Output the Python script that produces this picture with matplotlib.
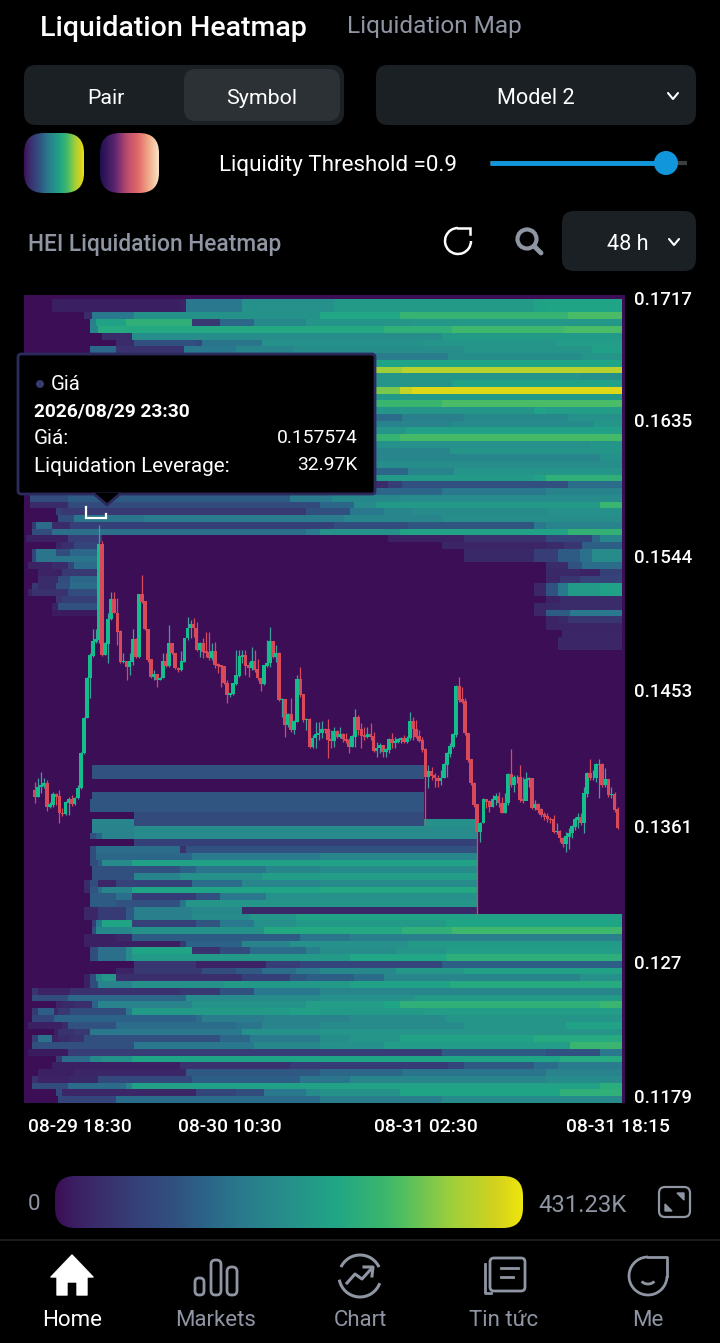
import matplotlib
matplotlib.use("Agg")
import matplotlib.pyplot as plt
import numpy as np
from matplotlib.colors import LinearSegmentedColormap
from matplotlib.patches import Arc, Circle, FancyBboxPatch, Polygon
from matplotlib.transforms import ScaledTranslation

plt.rcParams["font.family"] = ["Roboto", "DejaVu Sans"]

# candles, 15 min apart, prices in 1e-5
FIRST_OPEN = 13847
CLOSES = [
    13809, 13872, 13881, 13899, 13741, 13752, 13820, 13809, 13696, 13689, 13768, 13786, 13759, 13798, 13865, 14103,
    14340, 14611, 14763, 14860, 14871, 15515, 14770, 14844, 15011, 15147, 15052, 14928, 14724, 14724, 14690, 14724,
    14871, 14754, 15176, 15131, 14944, 14736, 14623, 14634, 14600, 14611, 14724, 14695, 14849, 14781, 14679, 14668,
    14724, 14882, 14950, 14973, 14950, 14803, 14849, 14792, 14785, 14747, 14792, 14702, 14695, 14690, 14577, 14498,
    14505, 14573, 14629, 14758, 14763, 14695, 14679, 14724, 14668, 14611, 14573, 14695, 14713, 14860, 14758, 14781,
    14464, 14464, 14295, 14363, 14261, 14318, 14600, 14498, 14329, 14329, 14148, 14205, 14227, 14238, 14266, 14261,
    14193, 14189, 14250, 14216, 14227, 14198, 14189, 14148, 14216, 14347, 14261, 14220, 14216, 14227, 14216, 14121,
    14137, 14153, 14114, 14125, 14193, 14171, 14182, 14193, 14205, 14182, 14205, 14318, 14266, 14216, 14189, 14125,
    13945, 13979, 13949, 13933, 13917, 13933, 14024, 14098, 14148, 14227, 14555, 14464, 14453, 14238, 14058, 13899,
    13752, 13572, 13628, 13786, 13775, 13737, 13786, 13809, 13764, 13701, 13764, 13956, 13888, 13940, 13940, 13786,
    13782, 13922, 13933, 13730, 13752, 13719, 13685, 13673, 13655, 13651, 13572, 13572, 13527, 13488, 13538, 13560,
    13606, 13651, 13669, 13633, 13827, 13967, 13933, 13933, 14024, 14024, 13888, 13922, 13820, 13820, 13719, 13594,
]
HIGHS = [
    13911, 13933, 13979, 13933, 13922, 13775, 13843, 13832, 13854, 13730, 13782, 13809, 13820, 13809, 13888, 14114,
    14351, 14623, 14781, 14944, 14944, 15651, 15542, 14860, 15052, 15199, 15199, 15154, 14939, 14781, 14724, 14781,
    14944, 14882, 15183, 15312, 15131, 14944, 14736, 14668, 14634, 14623, 14781, 14781, 14973, 14837, 14781, 14690,
    14799, 14882, 15025, 15007, 15018, 14995, 14860, 14882, 14928, 14928, 14849, 14860, 14713, 14702, 14690, 14600,
    14514, 14577, 14803, 14803, 14803, 14803, 14724, 14821, 14803, 14740, 14611, 14702, 14871, 14957, 14860, 14837,
    14792, 14476, 14471, 14374, 14476, 14329, 14634, 14686, 14498, 14340, 14340, 14227, 14318, 14318, 14324, 14272,
    14333, 14261, 14284, 14261, 14284, 14238, 14238, 14205, 14227, 14401, 14363, 14306, 14284, 14279, 14306, 14250,
    14182, 14171, 14148, 14137, 14205, 14238, 14216, 14205, 14216, 14227, 14220, 14385, 14351, 14329, 14261, 14216,
    14137, 14024, 14012, 13967, 13956, 13990, 14035, 14114, 14171, 14238, 14566, 14618, 14555, 14476, 14227, 14058,
    13911, 13730, 13639, 13798, 13791, 13786, 13820, 13832, 13843, 13809, 13832, 13967, 14130, 13956, 13956, 14024,
    13945, 13979, 13945, 13933, 13786, 13764, 13730, 13707, 13696, 13673, 13685, 13628, 13583, 13538, 13572, 13594,
    13617, 13673, 13696, 13696, 13877, 13979, 14062, 13990, 14035, 14062, 14035, 14001, 13922, 13877, 13843, 13741,
]
LOWS = [
    13768, 13809, 13832, 13865, 13714, 13730, 13741, 13752, 13633, 13678, 13685, 13685, 13746, 13752, 13791, 13859,
    14098, 14340, 14476, 14758, 14849, 14849, 14763, 14770, 14717, 15007, 15052, 14837, 14713, 14713, 14600, 14634,
    14702, 14747, 14747, 15120, 14939, 14724, 14611, 14600, 14555, 14600, 14611, 14690, 14690, 14776, 14672, 14656,
    14663, 14724, 14871, 14882, 14894, 14799, 14758, 14747, 14758, 14736, 14736, 14679, 14645, 14555, 14573, 14446,
    14487, 14498, 14566, 14623, 14713, 14634, 14623, 14668, 14656, 14600, 14528, 14566, 14690, 14690, 14747, 14724,
    14460, 14351, 14216, 14284, 14250, 14234, 14318, 14487, 14318, 14261, 14137, 14137, 14137, 14193, 14205, 14238,
    14069, 14137, 14148, 14205, 14205, 14182, 14171, 14107, 14148, 14148, 14227, 14137, 14193, 14205, 14193, 14114,
    14080, 14107, 14080, 14080, 14103, 14137, 14137, 14171, 14171, 14171, 14171, 14193, 14193, 14205, 14182, 14114,
    13617, 13865, 13922, 13877, 13877, 13888, 13933, 13945, 14080, 14137, 14216, 14453, 14442, 14227, 14046, 13888,
    13741, 13007, 13504, 13628, 13730, 13707, 13737, 13752, 13741, 13696, 13701, 13752, 13877, 13843, 13899, 13775,
    13764, 13798, 13877, 13723, 13719, 13696, 13673, 13651, 13639, 13628, 13560, 13556, 13504, 13470, 13436, 13452,
    13527, 13583, 13594, 13617, 13565, 13809, 13922, 13922, 13911, 13798, 13877, 13877, 13809, 13798, 13707, 13588,
]

# liquidation leverage in K, one row per price band from the top; (first column, value) runs
HEAT_ROWS = [
    [(14, 17), (78, 25), (81, 170), (109, 215), (155, 235), (255, 250), (261, 255)],
    [(14, 17), (78, 25), (81, 170), (109, 215), (155, 235), (255, 250), (261, 255)],
    [(30, 40), (34, 170), (55, 220), (148, 260), (188, 295), (272, 315)],
    [(33, 185), (36, 250), (51, 285), (84, 60), (98, 140), (115, 200), (141, 225), (194, 230)],
    [(33, 190), (37, 270), (51, 265), (180, 285), (214, 305), (270, 315)],
    [(39, 40), (54, 210), (209, 235)],
    [(46, 40), (55, 105), (86, 90), (89, 165), (119, 215), (200, 225), (266, 240)],
    [(33, 140), (46, 50), (80, 170), (106, 195), (135, 210), (220, 225), (284, 245)],
    [(30, 100), (46, 140), (80, 180), (212, 210), (279, 225)],
    [(30, 100), (50, 180), (100, 230), (176, 255)],
    [(30, 100), (50, 220), (100, 300), (170, 365), (189, 385)],
    [(30, 100), (60, 200), (176, 225), (278, 215)],
    [(30, 100), (60, 200), (176, 225), (214, 250)],
    [(30, 100), (60, 250), (176, 345), (188, 395), (194, 415)],
    [(30, 100), (60, 200), (176, 235)],
    [(30, 120), (60, 230), (176, 300), (209, 315)],
    [(30, 100), (60, 200), (176, 225), (255, 250), (261, 240)],
    [(30, 90), (60, 140), (176, 150), (189, 185), (220, 200), (272, 215)],
    [(30, 90), (60, 160), (176, 190), (214, 205), (285, 225)],
    [(30, 100), (60, 190), (176, 225), (191, 245)],
    [(30, 120), (60, 230), (176, 295), (188, 310)],
    [(30, 90), (60, 170), (176, 215), (283, 225)],
    [(30, 90), (60, 170), (176, 195), (213, 225)],
    [(30, 90), (60, 170), (176, 195), (288, 215)],
    [(30, 90), (60, 170), (176, 210)],
    [(30, 80), (60, 130), (176, 140), (192, 190), (215, 225)],
    [(30, 90), (60, 170), (176, 235), (255, 250), (261, 285)],
    [(30, 40), (182, 70), (189, 105), (272, 150)],
    [(10, 60), (60, 120), (176, 140), (209, 170), (261, 190)],
    [(3, 100), (22, 125), (133, 175), (154, 200), (188, 205)],
    [(3, 40), (22, 95), (148, 140), (165, 205), (176, 235), (288, 300)],
    [(16, 75), (19, 60), (141, 105), (163, 170), (180, 195), (194, 205), (262, 215)],
    [(17, 100), (25, 165), (60, 175), (160, 195), (209, 210)],
    [(4, 60), (6, 150), (14, 40), (23, 75), (155, 100), (192, 115), (255, 170), (261, 190)],
    [(4, 100), (14, 155), (141, 175), (148, 215), (188, 250), (272, 290)],
    [(1, 20), (22, 70), (39, 0), (182, 20), (220, 50), (261, 85), (284, 140), (288, 195)],
    [(16, 30), (19, 45), (25, 85), (38, 0), (209, 28), (261, 40), (270, 55), (279, 130)],
    [(4, 80), (6, 165), (16, 100), (23, 140), (38, 0), (220, 35), (255, 70), (267, 125), (278, 160), (284, 205)],
    [(4, 80), (6, 165), (38, 0), (220, 35), (255, 70), (267, 125), (278, 160), (284, 205)],
    [(2, 25), (14, 40), (22, 85), (25, 150), (38, 0), (261, 40), (272, 110), (279, 150)],
    [(7, 25), (16, 20), (19, 60), (38, 0), (261, 35), (278, 25), (288, 75)],
    [(7, 40), (17, 100), (23, 140), (38, 0), (261, 30), (268, 55), (278, 80)],
    [(4, 60), (7, 40), (16, 105), (23, 150), (38, 0), (255, 30), (261, 110), (267, 170), (272, 235), (288, 250)],
    [(2, 25), (4, 50), (22, 100), (38, 0), (255, 30), (261, 110), (267, 170), (272, 235), (288, 250)],
    [(16, 55), (19, 70), (37, 0), (261, 25), (268, 40)],
    [(14, 25), (17, 110), (37, 0), (255, 30), (261, 35), (268, 40)],
    [(14, 15), (37, 0), (255, 30), (261, 125), (273, 170)],
    [(261, 25), (267, 35), (272, 55)],
    [(261, 28)],
    [(269, 30)],
    [(267, 30)],
    [(267, 30)],
    *[[] for _ in range(17)],
    [(34, 110), (200, 0)],
    [(34, 110), (200, 0)],
    [],
    [],
    [(34, 115), (200, 0)],
    [(33, 115), (200, 0)],
    [(33, 115), (200, 0)],
    [(55, 95), (200, 0)],
    [(34, 195), (55, 95), (200, 215), (227, 0)],
    [(34, 190), (55, 205), (227, 0)],
    [(33, 105), (36, 135), (39, 190), (55, 205), (227, 0)],
    [(55, 75), (227, 0)],
    [(33, 100), (36, 150), (78, 50), (81, 110), (227, 0)],
    [(33, 100), (36, 140), (84, 175), (148, 195), (227, 0)],
    [(33, 100), (37, 130), (39, 205), (54, 250), (227, 0)],
    [(34, 105), (78, 135), (86, 165), (121, 195), (148, 205), (227, 0)],
    [(34, 105), (55, 190), (78, 215), (119, 240), (227, 0)],
    [(30, 40), (33, 100), (37, 30), (46, 80), (84, 150), (109, 195), (148, 205), (227, 0)],
    [(30, 35), (33, 115), (37, 155), (39, 195), (54, 255), (148, 265), (227, 0)],
    [(33, 125), (46, 155), (54, 65), (86, 105), (98, 170), (121, 215), (227, 0)],
    [(33, 125), (46, 110), (78, 165), (81, 225), (227, 0)],
    [(30, 30), (37, 65), (51, 120), (55, 185), (84, 200), (109, 35), (227, 0)],
    [(30, 30), (37, 65), (51, 120), (55, 185), (84, 205), (113, 225), (136, 250)],
    [(34, 70), (36, 170), (39, 255), (54, 75), (86, 115), (98, 170), (115, 215), (136, 235), (211, 255)],
    [(34, 100), (36, 200), (54, 220), (120, 265), (189, 285), (214, 305)],
    [(30, 20), (46, 35), (54, 125), (138, 165), (163, 185)],
    [(30, 20), (78, 65), (81, 135), (109, 190), (133, 215), (192, 235)],
    [(33, 100), (37, 155), (51, 205), (54, 255), (84, 50), (98, 100), (113, 150), (141, 185), (148, 210), (186, 225), (211, 240)],
    [(33, 100), (37, 155), (51, 205), (54, 235), (163, 260), (211, 280)],
    [(55, 55), (86, 25), (121, 70), (138, 85), (209, 130)],
    [(46, 25), (55, 60), (89, 100), (106, 120), (119, 150), (136, 175), (148, 200), (186, 230), (220, 250)],
    [(30, 20), (33, 100), (36, 200), (39, 225), (46, 45), (109, 75), (133, 115), (141, 130), (165, 150), (180, 195), (278, 215)],
    [(30, 20), (33, 100), (37, 190), (54, 215), (100, 235), (163, 250), (213, 270)],
    [(4, 55), (7, 25), (23, 50), (78, 60), (98, 110), (115, 170), (148, 195)],
    [(4, 100), (22, 140), (81, 205), (148, 215), (195, 235)],
    [(16, 25), (19, 35), (25, 45), (34, 135), (37, 190), (84, 220), (141, 240), (180, 255), (188, 285), (288, 300)],
    [(4, 60), (7, 130), (15, 40), (17, 60), (23, 100), (51, 170), (54, 235), (133, 245), (148, 235), (200, 240)],
    [(4, 85), (15, 135), (86, 150), (89, 180), (120, 190), (163, 205), (211, 225)],
    [(2, 20), (19, 40), (22, 110), (46, 150), (106, 165), (119, 190), (148, 205), (220, 225), (271, 250)],
    [(15, 20), (17, 50), (25, 60), (33, 170), (109, 215), (148, 225)],
    [(4, 70), (7, 160), (14, 25), (17, 40), (23, 50), (30, 105), (98, 140), (113, 175), (148, 210), (163, 225), (188, 250), (255, 270)],
    [(4, 105), (55, 170), (115, 200), (148, 215), (180, 240), (273, 300)],
    [(2, 15), (22, 70), (209, 125), (261, 110), (288, 170)],
    [(16, 60), (19, 150), (33, 200), (39, 220), (54, 255), (268, 270)],
    [(14, 20), (78, 50), (133, 65), (212, 85), (220, 120), (255, 150), (267, 175)],
    [(7, 20), (25, 30), (81, 120), (148, 140), (189, 165), (261, 190)],
    [(4, 50), (7, 25), (23, 35), (37, 90), (84, 130), (138, 165), (163, 195), (261, 205)],
    [(4, 100), (22, 150), (51, 190), (54, 250), (288, 275)],
    [(16, 90), (19, 30), (86, 85), (106, 100), (120, 170), (141, 205), (148, 220), (188, 255), (268, 285)],
    [(17, 85), (46, 150), (148, 180), (209, 205)],
]

PRICE_TICKS = [0.1717, 0.1635, 0.1544, 0.1453, 0.1361, 0.127, 0.1179]
TIME_TICKS = [0, 16, 32, 47.75]
TIME_LABELS = ["08-29 18:30", "08-30 10:30", "08-31 02:30", "08-31 18:15"]
MAX_LEVERAGE = 431.23

BG = "#000000"
PANEL = "#1b2024"
PANEL_ON = "#2c3135"
GREY = "#8f95a3"
BLUE = "#1296db"
UP = "#14bd8c"
DOWN = "#d8495a"

heat_cmap = LinearSegmentedColormap.from_list("heat", [
    (0.00, "#3c0e56"), (0.04, "#3b1f63"), (0.10, "#3a2f6c"), (0.18, "#35427a"), (0.25, "#31507f"),
    (0.32, "#2c6488"), (0.40, "#2a7a8d"), (0.50, "#26908a"), (0.60, "#20a686"), (0.70, "#3ab56f"),
    (0.75, "#55bf5f"), (0.85, "#a0cf3a"), (0.95, "#d6d31c"), (1.00, "#eee60d"),
])
swatch_cmap = LinearSegmentedColormap.from_list("swatch", [
    (0.0, "#1e0f50"), (0.25, "#5a2570"), (0.45, "#b84a6e"), (0.65, "#e06a6a"), (0.82, "#f0a888"), (1.0, "#f8e4c4"),
])

fig = plt.figure(figsize=(7.2, 13.43), dpi=100, facecolor=BG)

# page furniture, drawn in pixel coordinates
ui = fig.add_axes([0, 0, 1, 1], zorder=0)
ui.set_xlim(0, 720)
ui.set_ylim(1343, 0)
ui.axis("off")


def box(ax, x0, y0, x1, y1, rad, fc, ec="none", lw=0.0, z=1):
    patch = FancyBboxPatch((x0 + rad, y0 + rad), x1 - x0 - 2 * rad, y1 - y0 - 2 * rad,
                           boxstyle=f"round,pad={rad},rounding_size={rad}", fc=fc, ec=ec, lw=lw, zorder=z)
    ax.add_patch(patch)
    return patch


def gradient(ax, x0, y0, x1, y1, rad, cmap):
    clip = box(ax, x0, y0, x1, y1, rad, "none")
    im = ax.imshow(np.linspace(0, 1, 256)[None, :], cmap=cmap, extent=(x0, x1, y1, y0), aspect="auto", zorder=2)
    im.set_clip_path(clip)
    ax.set_xlim(0, 720)
    ax.set_ylim(1343, 0)


def chevron(ax, x, y, c="#ffffff"):
    ax.plot([x - 5, x, x + 5], [y - 3, y + 3, y - 3], color=c, lw=1.5, solid_capstyle="round", zorder=3)


ui.text(40, 28, "Liquidation Heatmap", color="white", fontsize=20.5, fontweight="medium", va="center")
ui.text(347, 26.5, "Liquidation Map", color=GREY, fontsize=17.6, va="center")

box(ui, 24, 65, 344, 125, 12, PANEL)
box(ui, 184, 69, 340, 121, 12, PANEL_ON, z=2)
ui.text(106, 98.5, "Pair", color="white", fontsize=15.4, ha="center", va="center", zorder=3)
ui.text(262, 98.5, "Symbol", color="white", fontsize=15.4, ha="center", va="center", zorder=3)
box(ui, 376, 65, 696, 125, 12, PANEL)
ui.text(536, 98.5, "Model 2", color="white", fontsize=15.6, ha="center", va="center", zorder=3)
chevron(ui, 673, 96)

gradient(ui, 24, 133, 84, 193, 20, heat_cmap)
gradient(ui, 100, 133, 159, 193, 20, swatch_cmap)
ui.text(219, 166, "Liquidity Threshold =0.9", color="white", fontsize=16.1, va="center")
ui.plot([490, 687], [163, 163], color="#3a3f44", lw=3, zorder=2, solid_capstyle="butt")
ui.plot([490, 666], [163, 163], color=BLUE, lw=3.5, zorder=3, solid_capstyle="butt")
ui.add_patch(Circle((666, 163), 12, fc=BLUE, ec="none", zorder=4))

ui.text(28, 244, "HEI Liquidation Heatmap", color=GREY, fontsize=16.4, fontweight="medium", va="center")
ui.add_patch(Arc((458, 241), 26, 26, theta1=0, theta2=270, color="white", lw=1.8, zorder=3))
ui.plot([458, 470, 470], [228, 228, 234], color="white", lw=1.8, zorder=3, solid_joinstyle="miter")
ui.add_patch(Circle((527, 239), 9.5, fc="none", ec=GREY, lw=3, zorder=3))
ui.plot([534, 541], [246, 253], color=GREY, lw=3.5, zorder=3, solid_capstyle="round")
box(ui, 562, 211, 696, 271, 12, PANEL)
ui.text(628, 244, "48 h", color="white", fontsize=15.6, ha="center", va="center", zorder=3)
chevron(ui, 674, 242)

# colour scale
ui.text(34, 1205, "0", color=GREY, fontsize=16, ha="center", va="center")
gradient(ui, 55, 1176, 523, 1228, 20, heat_cmap)
ui.text(538, 1205, f"{MAX_LEVERAGE:.2f}K", color=GREY, fontsize=17.2, va="center")
box(ui, 659, 1187, 690, 1217, 6, "none", ec=GREY, lw=1.6)
ui.add_patch(Polygon([[665, 1211], [665, 1204], [672, 1211]], fc=GREY, ec=GREY, lw=1))
ui.add_patch(Polygon([[684, 1193], [684, 1200], [677, 1193]], fc=GREY, ec=GREY, lw=1))
ui.plot([0, 720], [1240, 1240], color="#1f2327", lw=1.2)

# bottom navigation
ui.add_patch(Polygon([[72, 1255], [93, 1277], [87, 1277], [87, 1295], [77, 1295], [77, 1282], [67, 1282],
                      [67, 1295], [57, 1295], [57, 1277], [51, 1277]], fc="white", ec="white", lw=1, joinstyle="round"))
for xc, top_y, half in [(199.5, 1278, 4.5), (216, 1260, 5), (232, 1267, 5)]:
    box(ui, xc - half, top_y, xc + half, 1295, half - 0.5, "none", ec=GREY, lw=2)
ui.add_patch(Arc((360, 1276), 42, 42, theta1=205, theta2=335, color=GREY, lw=2.2))
ui.add_patch(Arc((360, 1276), 42, 42, theta1=20, theta2=170, color=GREY, lw=2.2))
ui.plot([347, 355, 362, 372], [1283, 1274, 1279, 1268], color=GREY, lw=2.2)
ui.plot([364, 373, 372], [1267, 1267, 1276], color=GREY, lw=2.2)
box(ui, 490, 1258, 525, 1291, 4, "none", ec=GREY, lw=2)
ui.plot([485, 485, 491], [1264, 1293, 1293], color=GREY, lw=2)
ui.plot([501, 518], [1268, 1268], color=GREY, lw=2)
ui.plot([501, 513], [1277, 1277], color=GREY, lw=2)
ui.add_patch(Arc((648, 1276), 38, 38, theta1=0, theta2=270, color=GREY, lw=2))
ui.plot([648, 667, 667], [1257, 1257, 1276], color=GREY, lw=2)
ui.add_patch(Arc((648, 1279), 14, 10, theta1=20, theta2=160, color=GREY, lw=2))

for xc, name, col in [(72, "Home", "white"), (216, "Markets", GREY), (360, "Chart", GREY),
                      (504, "Tin tức", GREY), (648, "Me", GREY)]:
    ui.text(xc, 1321, name, color=col, fontsize=16, ha="center", va="center")

# heatmap and candles
ax = fig.add_axes([24 / 720, (1343 - 1102.5) / 1343, 601 / 720, 807.5 / 1343], zorder=1)
ax.set_facecolor(heat_cmap(0.0))
ax.set_xlim(-0.902, 48.36)
ax.set_ylim(0.11735, 0.17210)

n_cols = 299
grid = np.zeros((len(HEAT_ROWS), n_cols))
for r, runs in enumerate(HEAT_ROWS):
    for k, (start, value) in enumerate(runs):
        stop = runs[k + 1][0] if k + 1 < len(runs) else n_cols
        grid[r, start:stop] = value
x_edges = -0.902 + np.arange(n_cols + 1) * 0.1639
y_edges = 0.17183 - np.arange(len(HEAT_ROWS) + 1) * 0.000458
ax.pcolormesh(x_edges, y_edges, grid, cmap=heat_cmap, vmin=0, vmax=MAX_LEVERAGE, antialiased=False, rasterized=True)

closes = np.array(CLOSES) / 1e5
highs = np.array(HIGHS) / 1e5
lows = np.array(LOWS) / 1e5
opens = np.r_[FIRST_OPEN / 1e5, closes[:-1]]
times = np.arange(len(closes)) * 0.25
colors = np.where(closes >= opens, UP, DOWN)
wick_colors = np.where(closes >= opens, "#3f9f9a", "#d8495a")
ax.vlines(times, lows, highs, colors=wick_colors, lw=0.9, zorder=3)
ax.bar(times, np.abs(closes - opens) + 0.00004, bottom=np.minimum(closes, opens), width=0.30, color=colors, lw=0, zorder=4)

ax.yaxis.tick_right()
ax.set_yticks(PRICE_TICKS, [f"{p:g}" for p in PRICE_TICKS])
ax.set_xticks(TIME_TICKS, TIME_LABELS)
ax.tick_params(axis="y", length=0, pad=6.5, labelcolor="white", labelsize=13.4)
ax.tick_params(axis="x", length=0, pad=11.5, labelcolor="white", labelsize=13.9)
for lab in ax.get_xticklabels() + ax.get_yticklabels():
    lab.set_fontweight("medium")
first = ax.get_xticklabels()[0]
first.set_ha("left")
first.set_transform(first.get_transform() + ScaledTranslation(-7 / 100, 0, fig.dpi_scale_trans))
# the app nudges its price labels a little off the true scale
for lab, dy in zip(ax.get_yticklabels(), [3, 2, 0, 0, 0, -2, -2]):
    lab.set_transform(lab.get_transform() + ScaledTranslation(0, dy / 100, fig.dpi_scale_trans))
for s in ax.spines.values():
    s.set_visible(False)

# hover tooltip sits over the heatmap
top = fig.add_axes([0, 0, 1, 1], zorder=2)
top.set_xlim(0, 720)
top.set_ylim(1343, 0)
top.axis("off")
top.patch.set_alpha(0)
box(top, 18, 354, 375, 494, 3, "#000000", ec="#2c2a5c", lw=2)
top.add_patch(Polygon([[94, 493], [120, 493], [107, 505]], fc="#000000", ec="none", zorder=3))
top.plot([94, 107, 120], [494, 505, 494], color="#2c2a5c", lw=2, zorder=3)
top.plot([85.5, 85.5, 106, 106], [507, 518, 518, 514], color="white", lw=1.6, zorder=3, solid_joinstyle="miter")
top.add_patch(Circle((40, 384), 4, fc="#3a3a70", ec="none", zorder=3))
top.text(51, 384, "Giá", color="white", fontsize=14.6, va="center", zorder=3)
top.text(34, 411, "2026/08/29 23:30", color="white", fontsize=13.8, fontweight="bold", va="center", zorder=3)
top.text(34, 438, "Giá:", color="white", fontsize=14.8, va="center", zorder=3)
top.text(358, 438, "0.157574", color="white", fontsize=13.9, ha="right", va="center", zorder=3)
top.text(34, 466, "Liquidation Leverage:", color="white", fontsize=14.9, va="center", zorder=3)
top.text(358, 465, "32.97K", color="white", fontsize=13.9, ha="right", va="center", zorder=3)

fig.savefig("out.png", dpi=100, facecolor=BG)
